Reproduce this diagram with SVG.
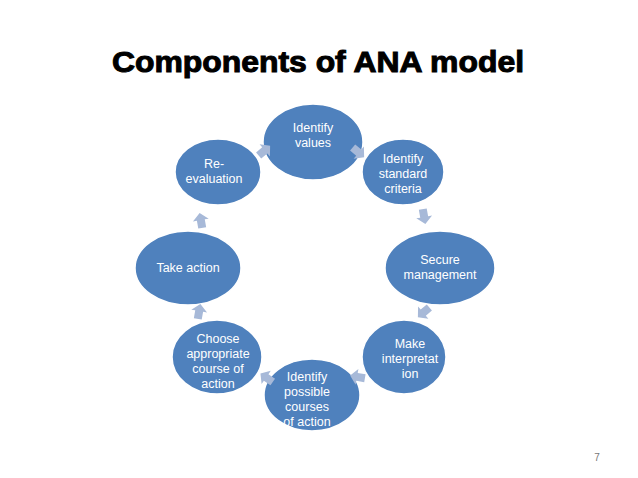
<svg xmlns="http://www.w3.org/2000/svg" width="638" height="478" viewBox="0 0 638 478">
<style>
.n{fill:#4f81bd;stroke:#fff;stroke-width:1.5}
.t{font-family:"Liberation Sans",Arial,sans-serif;font-size:12.5px;fill:#fff;text-anchor:middle}
.a{fill:#a7b9d8}
</style>
<defs><path id="ar" d="M-7,-4 L1,-4 L1,-8 L8,0 L1,8 L1,4 L-7,4 Z"/></defs>
<rect width="638" height="478" fill="#fff"/>
<text x="318" y="72" font-family="Liberation Sans,Arial,sans-serif" font-weight="bold" font-size="29" text-anchor="middle" fill="#000" stroke="#000" stroke-width="1" textLength="412" lengthAdjust="spacingAndGlyphs">Components of ANA model</text>
<g id="n1"><ellipse class="n" cx="313" cy="142" rx="50" ry="38"/><text class="t" x="313" y="132">Identify</text><text class="t" x="313" y="147">values</text></g>
<g id="n2"><ellipse class="n" cx="403" cy="172" rx="41" ry="33"/><text class="t" x="403" y="163">Identify</text><text class="t" x="403" y="178">standard</text><text class="t" x="403" y="193">criteria</text></g>
<g id="n3"><ellipse class="n" cx="440" cy="268" rx="55" ry="37"/><text class="t" x="440" y="264">Secure</text><text class="t" x="440" y="279">management</text></g>
<g id="n4"><ellipse class="n" cx="404" cy="357" rx="42" ry="37"/><text class="t" x="410" y="348">Make</text><text class="t" x="410" y="363">interpretat</text><text class="t" x="410" y="378">ion</text></g>
<g id="n5"><ellipse class="n" cx="312" cy="395" rx="48" ry="36"/><text class="t" x="307" y="381">Identify</text><text class="t" x="307" y="396">possible</text><text class="t" x="307" y="411">courses</text><text class="t" x="307" y="426">of action</text></g>
<g id="n6"><ellipse class="n" cx="217" cy="357" rx="45" ry="37"/><text class="t" x="218" y="343">Choose</text><text class="t" x="218" y="358">appropriate</text><text class="t" x="218" y="373">course of</text><text class="t" x="218" y="388">action</text></g>
<g id="n7"><ellipse class="n" cx="188" cy="268" rx="53" ry="37"/><text class="t" x="188" y="272">Take action</text></g>
<g id="n8"><ellipse class="n" cx="218" cy="172" rx="43" ry="33"/><text class="t" x="214" y="168">Re-</text><text class="t" x="214" y="183">evaluation</text></g>
<g id="connectors">
<use href="#ar" class="a" transform="translate(264,151) rotate(-40)"/>
<use href="#ar" class="a" transform="translate(358,152) rotate(40)"/>
<use href="#ar" class="a" transform="translate(424,216) rotate(80)"/>
<use href="#ar" class="a" transform="translate(424,312) rotate(140)"/>
<use href="#ar" class="a" transform="translate(358,377) rotate(190)"/>
<use href="#ar" class="a" transform="translate(267,378) rotate(215)"/>
<use href="#ar" class="a" transform="translate(199,312) rotate(-80)"/>
<use href="#ar" class="a" transform="translate(201,221) rotate(-100)"/>
</g>
<text x="597" y="461" font-family="Liberation Sans,Arial,sans-serif" font-size="10" fill="#777" text-anchor="middle">7</text>
</svg>
